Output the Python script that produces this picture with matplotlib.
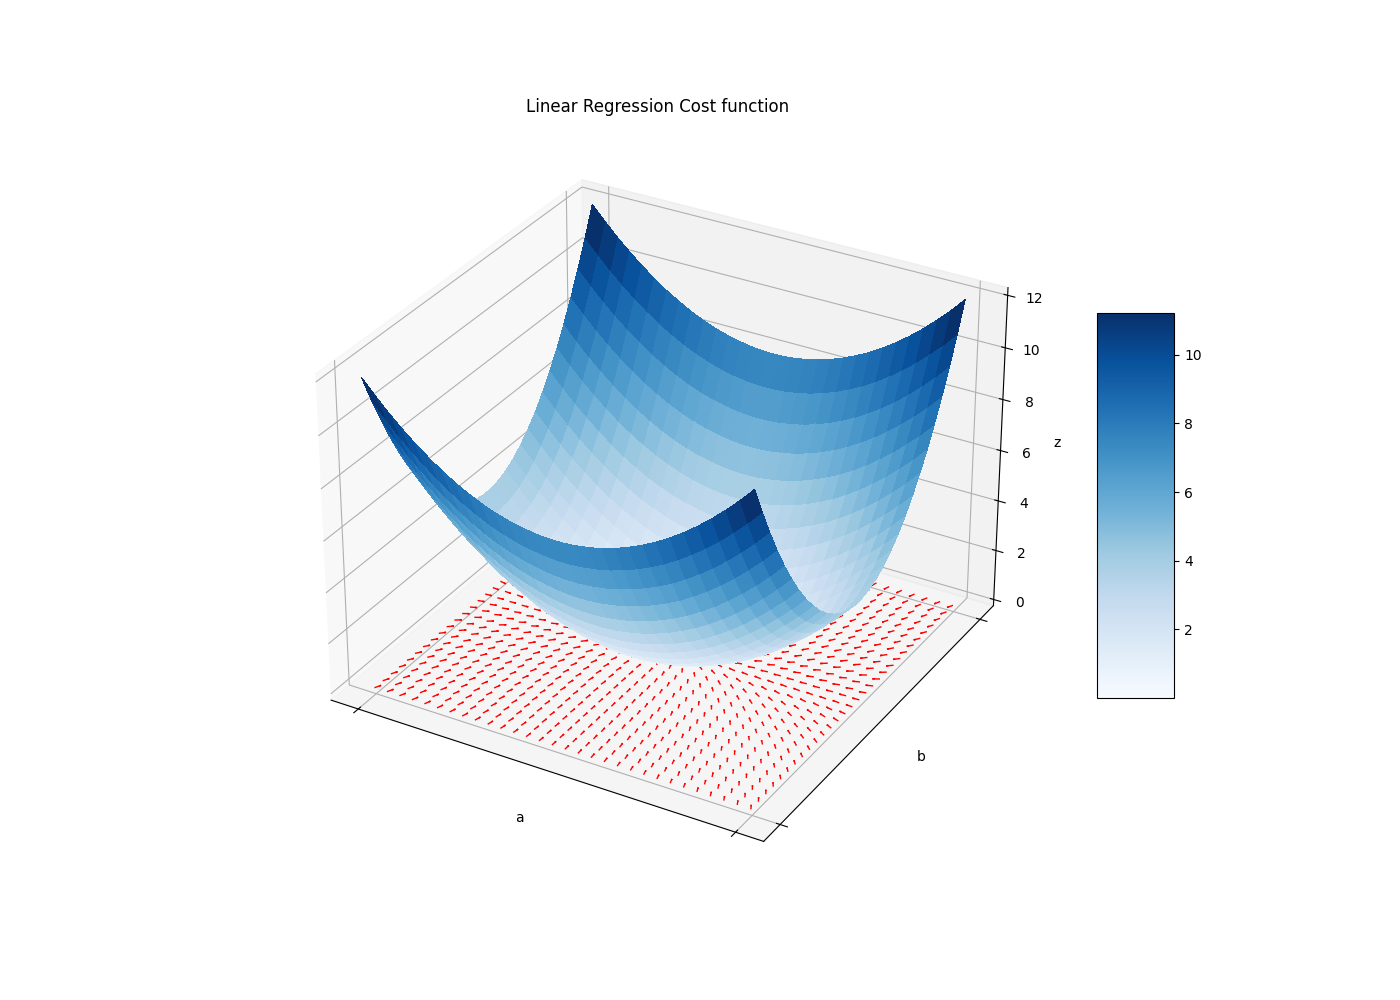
# cost surface with gradient arrows on the floor

import numpy as np
import matplotlib
matplotlib.use("Agg")
import matplotlib.pyplot as plt

a_values = [-2.06, -1.922, -1.784, -1.646, -1.508, -1.37, -1.232, -1.094, -0.956, -0.818,
            -0.68, -0.542, -0.404, -0.266, -0.128, 0.01, 0.148, 0.286, 0.424, 0.562,
            0.7, 0.838, 0.976, 1.114, 1.252, 1.39, 1.528, 1.666, 1.804, 1.942]
b_values = [-1.96, -1.8245, -1.689, -1.5535, -1.418, -1.2825, -1.147, -1.0115, -0.876, -0.7405,
            -0.605, -0.4695, -0.334, -0.1985, -0.063, 0.0725, 0.208, 0.3435, 0.479, 0.6145,
            0.75, 0.8855, 1.021, 1.1565, 1.292, 1.4275, 1.563, 1.6985, 1.834, 1.9695]

# one row per b value, one column per a value
cost = [
    [11.95, 11.42, 10.92, 10.47, 10.05, 9.67, 9.32, 9.02, 8.75, 8.52, 8.33, 8.18, 8.07, 7.99, 7.95, 7.95, 7.99, 8.07, 8.18, 8.34, 8.53, 8.76, 9.02, 9.33, 9.67, 10.05, 10.47, 10.93, 11.42, 11.96],
    [10.89, 10.36, 9.86, 9.41, 8.99, 8.61, 8.26, 7.96, 7.69, 7.46, 7.27, 7.12, 7.01, 6.93, 6.89, 6.89, 6.93, 7.01, 7.12, 7.28, 7.47, 7.70, 7.96, 8.27, 8.61, 8.99, 9.41, 9.87, 10.36, 10.90],
    [9.91, 9.38, 8.88, 8.43, 8.01, 7.63, 7.28, 6.98, 6.71, 6.48, 6.29, 6.14, 6.03, 5.95, 5.91, 5.91, 5.95, 6.03, 6.14, 6.30, 6.49, 6.72, 6.98, 7.29, 7.63, 8.01, 8.43, 8.89, 9.38, 9.92],
    [9.00, 8.47, 7.97, 7.52, 7.10, 6.72, 6.37, 6.07, 5.80, 5.57, 5.38, 5.23, 5.12, 5.04, 5.00, 5.00, 5.04, 5.12, 5.23, 5.39, 5.58, 5.81, 6.07, 6.38, 6.72, 7.10, 7.52, 7.98, 8.47, 9.01],
    [8.16, 7.63, 7.13, 6.68, 6.26, 5.88, 5.53, 5.23, 4.96, 4.73, 4.54, 4.39, 4.28, 4.20, 4.16, 4.16, 4.20, 4.28, 4.39, 4.55, 4.74, 4.97, 5.23, 5.54, 5.88, 6.26, 6.68, 7.14, 7.63, 8.17],
    [7.41, 6.88, 6.38, 5.93, 5.51, 5.13, 4.78, 4.48, 4.21, 3.98, 3.79, 3.64, 3.53, 3.45, 3.41, 3.41, 3.45, 3.53, 3.64, 3.80, 3.99, 4.22, 4.48, 4.79, 5.13, 5.51, 5.93, 6.39, 6.88, 7.42],
    [6.72, 6.19, 5.69, 5.24, 4.82, 4.44, 4.09, 3.79, 3.52, 3.29, 3.10, 2.95, 2.84, 2.76, 2.72, 2.72, 2.76, 2.84, 2.95, 3.11, 3.30, 3.53, 3.79, 4.10, 4.44, 4.82, 5.24, 5.70, 6.19, 6.73],
    [6.12, 5.59, 5.09, 4.64, 4.22, 3.84, 3.49, 3.19, 2.92, 2.69, 2.50, 2.35, 2.24, 2.16, 2.12, 2.12, 2.16, 2.24, 2.35, 2.51, 2.70, 2.93, 3.19, 3.50, 3.84, 4.22, 4.64, 5.10, 5.59, 6.13],
    [5.59, 5.06, 4.56, 4.11, 3.69, 3.31, 2.96, 2.66, 2.39, 2.16, 1.97, 1.82, 1.71, 1.63, 1.59, 1.59, 1.63, 1.71, 1.82, 1.98, 2.17, 2.40, 2.66, 2.97, 3.31, 3.69, 4.11, 4.57, 5.06, 5.60],
    [5.13, 4.60, 4.10, 3.65, 3.23, 2.85, 2.50, 2.20, 1.93, 1.70, 1.51, 1.36, 1.25, 1.17, 1.13, 1.13, 1.17, 1.25, 1.36, 1.52, 1.71, 1.94, 2.20, 2.51, 2.85, 3.23, 3.65, 4.11, 4.60, 5.14],
    [4.76, 4.23, 3.73, 3.28, 2.86, 2.48, 2.13, 1.83, 1.56, 1.33, 1.14, 0.99, 0.88, 0.80, 0.76, 0.76, 0.80, 0.88, 0.99, 1.15, 1.34, 1.57, 1.83, 2.14, 2.48, 2.86, 3.28, 3.74, 4.23, 4.77],
    [4.46, 3.93, 3.43, 2.98, 2.56, 2.18, 1.83, 1.53, 1.26, 1.03, 0.84, 0.69, 0.58, 0.50, 0.46, 0.46, 0.50, 0.58, 0.69, 0.85, 1.04, 1.27, 1.53, 1.84, 2.18, 2.56, 2.98, 3.44, 3.93, 4.47],
    [4.23, 3.70, 3.20, 2.75, 2.33, 1.95, 1.60, 1.30, 1.03, 0.80, 0.61, 0.46, 0.35, 0.27, 0.23, 0.23, 0.27, 0.35, 0.46, 0.62, 0.81, 1.04, 1.30, 1.61, 1.95, 2.33, 2.75, 3.21, 3.70, 4.24],
    [4.08, 3.55, 3.05, 2.60, 2.18, 1.80, 1.45, 1.15, 0.88, 0.65, 0.46, 0.31, 0.20, 0.12, 0.08, 0.08, 0.12, 0.20, 0.31, 0.47, 0.66, 0.89, 1.15, 1.46, 1.80, 2.18, 2.60, 3.06, 3.55, 4.09],
    [4.01, 3.48, 2.98, 2.53, 2.11, 1.73, 1.38, 1.08, 0.81, 0.58, 0.39, 0.24, 0.13, 0.05, 0.01, 0.01, 0.05, 0.13, 0.24, 0.40, 0.59, 0.82, 1.08, 1.39, 1.73, 2.11, 2.53, 2.99, 3.48, 4.02],
    [4.01, 3.48, 2.98, 2.53, 2.11, 1.73, 1.38, 1.08, 0.81, 0.58, 0.39, 0.24, 0.13, 0.05, 0.01, 0.01, 0.05, 0.13, 0.24, 0.40, 0.59, 0.82, 1.08, 1.39, 1.73, 2.11, 2.53, 2.99, 3.48, 4.02],
    [4.09, 3.56, 3.06, 2.61, 2.19, 1.81, 1.46, 1.16, 0.89, 0.66, 0.47, 0.32, 0.21, 0.13, 0.09, 0.09, 0.13, 0.21, 0.32, 0.48, 0.67, 0.90, 1.16, 1.47, 1.81, 2.19, 2.61, 3.07, 3.56, 4.10],
    [4.24, 3.71, 3.21, 2.76, 2.34, 1.96, 1.61, 1.31, 1.04, 0.81, 0.62, 0.47, 0.36, 0.28, 0.24, 0.24, 0.28, 0.36, 0.47, 0.63, 0.82, 1.05, 1.31, 1.62, 1.96, 2.34, 2.76, 3.22, 3.71, 4.25],
    [4.47, 3.94, 3.44, 2.99, 2.57, 2.19, 1.84, 1.54, 1.27, 1.04, 0.85, 0.70, 0.59, 0.51, 0.47, 0.47, 0.51, 0.59, 0.70, 0.86, 1.05, 1.28, 1.54, 1.85, 2.19, 2.57, 2.99, 3.45, 3.94, 4.48],
    [4.78, 4.25, 3.75, 3.30, 2.88, 2.50, 2.15, 1.85, 1.58, 1.35, 1.16, 1.01, 0.90, 0.82, 0.78, 0.78, 0.82, 0.90, 1.01, 1.17, 1.36, 1.59, 1.85, 2.16, 2.50, 2.88, 3.30, 3.76, 4.25, 4.79],
    [5.17, 4.64, 4.14, 3.69, 3.27, 2.89, 2.54, 2.24, 1.97, 1.74, 1.55, 1.40, 1.29, 1.21, 1.17, 1.17, 1.21, 1.29, 1.40, 1.56, 1.75, 1.98, 2.24, 2.55, 2.89, 3.27, 3.69, 4.15, 4.64, 5.18],
    [5.62, 5.09, 4.59, 4.14, 3.72, 3.34, 2.99, 2.69, 2.42, 2.19, 2.00, 1.85, 1.74, 1.66, 1.62, 1.62, 1.66, 1.74, 1.85, 2.01, 2.20, 2.43, 2.69, 3.00, 3.34, 3.72, 4.14, 4.60, 5.09, 5.63],
    [6.16, 5.63, 5.13, 4.68, 4.26, 3.88, 3.53, 3.23, 2.96, 2.73, 2.54, 2.39, 2.28, 2.20, 2.16, 2.16, 2.20, 2.28, 2.39, 2.55, 2.74, 2.97, 3.23, 3.54, 3.88, 4.26, 4.68, 5.14, 5.63, 6.17],
    [6.77, 6.24, 5.74, 5.29, 4.87, 4.49, 4.14, 3.84, 3.57, 3.34, 3.15, 3.00, 2.89, 2.81, 2.77, 2.77, 2.81, 2.89, 3.00, 3.16, 3.35, 3.58, 3.84, 4.15, 4.49, 4.87, 5.29, 5.75, 6.24, 6.78],
    [7.45, 6.92, 6.42, 5.97, 5.55, 5.17, 4.82, 4.52, 4.25, 4.02, 3.83, 3.68, 3.57, 3.49, 3.45, 3.45, 3.49, 3.57, 3.68, 3.84, 4.03, 4.26, 4.52, 4.83, 5.17, 5.55, 5.97, 6.43, 6.92, 7.46],
    [8.22, 7.69, 7.19, 6.74, 6.32, 5.94, 5.59, 5.29, 5.02, 4.79, 4.60, 4.45, 4.34, 4.26, 4.22, 4.22, 4.26, 4.34, 4.45, 4.61, 4.80, 5.03, 5.29, 5.60, 5.94, 6.32, 6.74, 7.20, 7.69, 8.23],
    [9.06, 8.53, 8.03, 7.58, 7.16, 6.78, 6.43, 6.13, 5.86, 5.63, 5.44, 5.29, 5.18, 5.10, 5.06, 5.06, 5.10, 5.18, 5.29, 5.45, 5.64, 5.87, 6.13, 6.44, 6.78, 7.16, 7.58, 8.04, 8.53, 9.07],
    [9.97, 9.44, 8.94, 8.49, 8.07, 7.69, 7.34, 7.04, 6.77, 6.54, 6.35, 6.20, 6.09, 6.01, 5.97, 5.97, 6.01, 6.09, 6.20, 6.36, 6.55, 6.78, 7.04, 7.35, 7.69, 8.07, 8.49, 8.95, 9.44, 9.98],
    [10.96, 10.43, 9.93, 9.48, 9.06, 8.68, 8.33, 8.03, 7.76, 7.53, 7.34, 7.19, 7.08, 7.00, 6.96, 6.96, 7.00, 7.08, 7.19, 7.35, 7.54, 7.77, 8.03, 8.34, 8.68, 9.06, 9.48, 9.94, 10.43, 10.97],
    [12.03, 11.50, 11.00, 10.55, 10.13, 9.75, 9.40, 9.10, 8.83, 8.60, 8.41, 8.26, 8.15, 8.07, 8.03, 8.03, 8.07, 8.15, 8.26, 8.42, 8.61, 8.84, 9.10, 9.41, 9.75, 10.13, 10.55, 11.01, 11.50, 12.04],
]

a_ticks = [-2.05, 1.95]
b_ticks = [-1.95, 1.97]


def main():
	a = np.array(a_values)
	b = np.array(b_values)
	z = np.array(cost)
	x, y = np.meshgrid(a, b)

	# the arrows follow the slope of the surface itself
	dz_db, dz_da = np.gradient(z, b, a)

	fig = plt.figure(figsize=(14, 10), dpi=100)
	ax = fig.add_subplot(projection="3d")
	surf = ax.plot_surface(x, y, z, cmap="Blues", linewidth=0, antialiased=False)
	ax.quiver(x, y, np.zeros_like(z), -dz_da, -dz_db, np.zeros_like(z),
		length=0.07, normalize=True, color="red", linewidth=1.0)

	ax.set_xticks(a_ticks)
	ax.set_yticks(b_ticks)
	ax.set_xticklabels([])
	ax.set_yticklabels([])
	ax.set_xlabel("a")
	ax.set_ylabel("b")
	ax.set_zlabel("z")
	ax.set_title("Linear Regression Cost function")
	fig.colorbar(surf, shrink=0.5, aspect=5)

	plt.savefig("out.png", format="png")


if __name__ == '__main__':
	main()
